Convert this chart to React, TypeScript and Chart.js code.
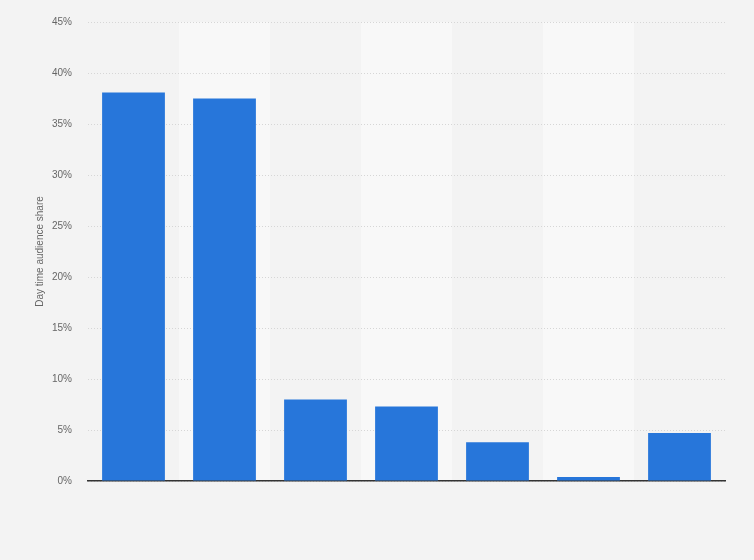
import React, { useEffect, useRef } from "react";
import { Chart, registerables } from "chart.js";

Chart.register(...registerables);

const categories = ["A", "B", "C", "D", "E", "F", "G"];
const shareValues = [38.1, 37.5, 8.0, 7.3, 3.8, 0.4, 4.7];
const yTicks = [0, 5, 10, 15, 20, 25, 30, 35, 40, 45];

const bgPlugin = {
  id: "bg",
  beforeDraw(chart: any) {
    const { ctx, width, height, chartArea, scales } = chart;
    ctx.save();
    ctx.fillStyle = "#f3f3f3";
    ctx.fillRect(0, 0, width, height);
    const x = scales.x;
    ctx.fillStyle = "#f8f8f8";
    const half = (x.getPixelForValue(1) - x.getPixelForValue(0)) / 2;
    categories.forEach((_, i) => {
      if (i % 2 === 1) {
        const c = x.getPixelForValue(i);
        ctx.fillRect(c - half, chartArea.top, half * 2, chartArea.bottom - chartArea.top);
      }
    });
    ctx.restore();
  },
};

export default function App() {
  const ref = useRef<HTMLCanvasElement>(null);
  useEffect(() => {
    document.body.style.margin = "0";
    const chart = new Chart(ref.current!, {
      type: "bar",
      data: {
        labels: categories,
        datasets: [
          {
            data: shareValues,
            backgroundColor: "#2776da",
            borderWidth: 0,
            barPercentage: 0.69,
            categoryPercentage: 1,
          },
        ],
      },
      plugins: [bgPlugin],
      options: {
        responsive: false,
        animation: false,
        layout: { padding: { left: 0, right: 29, top: 18, bottom: 79 } },
        plugins: { legend: { display: false }, tooltip: { enabled: false } },
        scales: {
          x: {
            ticks: { display: false },
            grid: { display: false, drawTicks: false },
            border: { display: true, color: "#333333", width: 1.5 },
            afterFit(scale: any) {
              scale.height = 0;
            },
          },
          y: {
            min: 0,
            max: 45,
            afterBuildTicks(scale: any) {
              scale.ticks = yTicks.map((v) => ({ value: v }));
            },
            ticks: {
              padding: 16,
              color: "#666666",
              font: { family: "Arial, 'Liberation Sans', sans-serif", size: 10 },
              callback: (v: any) => v + "%",
            },
            grid: {
              color: "#d6d6d6",
              drawTicks: false,
            },
            border: { display: false, dash: [1, 2] },
            title: {
              display: true,
              text: "Day time audience share",
              color: "#666666",
              font: { family: "Arial, 'Liberation Sans', sans-serif", size: 10 },
              padding: { top: 34, bottom: 0 },
            },
            afterFit(scale: any) {
              scale.width = 88;
            },
          },
        },
      },
    });
    return () => chart.destroy();
  }, []);
  return (
    <div style={{ width: 754, height: 560 }}>
      <canvas ref={ref} width={754} height={560} style={{ display: "block" }} />
    </div>
  );
}
